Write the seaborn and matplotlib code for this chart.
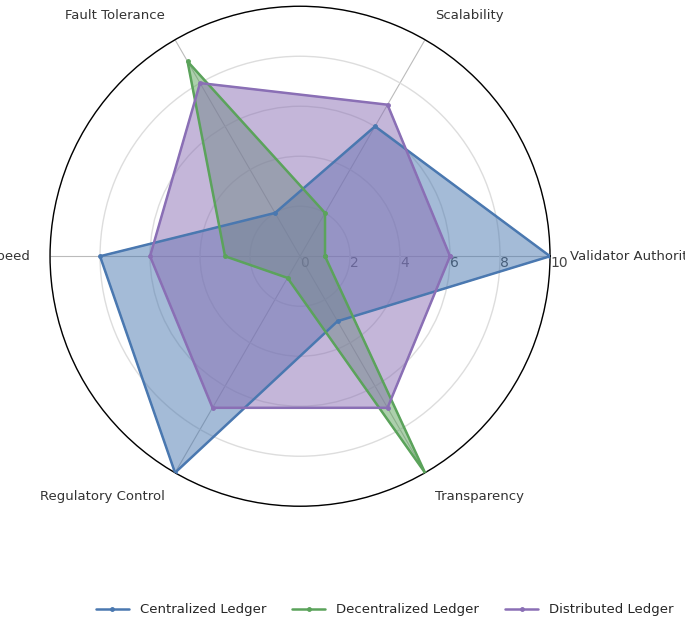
import numpy as np
import matplotlib.pyplot as plt
import seaborn as sns

sns.set_style('white')
plt.rcParams['font.family'] = ['DejaVu Sans']

categories = ['Validator Authority', 'Scalability', 'Fault Tolerance', 'Speed',
              'Regulatory Control', 'Transparency']
centralized = [10, 6, 2, 8, 10, 3]
decentralized = [1, 2, 9, 3, 1, 10]
distributed = [6, 7, 8, 6, 7, 7]

series = [('Centralized Ledger', centralized, '#4a78b0'),
          ('Decentralized Ledger', decentralized, '#5ba35b'),
          ('Distributed Ledger', distributed, '#8a6fb5')]

angles = np.linspace(0, 2 * np.pi, len(categories), endpoint=False)
closed = np.append(angles, angles[0])

fig = plt.figure(figsize=(6.85, 6.25), dpi=100)
ax = fig.add_axes([0.073, 0.19, 0.730, 0.80], polar=True)

for name, vals, color in series:
    v = np.append(vals, vals[0])
    ax.fill(closed, v, color=color, alpha=0.5, zorder=2)
    ax.plot(closed, v, color=color, linewidth=1.8, marker='o', markersize=2.5,
            label=name, zorder=3)

ax.set_ylim(0, 10)
ax.set_yticks([0, 2, 4, 6, 8, 10])
ax.set_yticklabels(['0', '2', '4', '6', '8', '10'], fontsize=10, color='#444')
ax.set_rlabel_position(0)
for t in ax.get_yticklabels():
    t.set_verticalalignment('top')
ax.set_xticks(angles)
ax.set_xticklabels(categories, fontsize=9.5, color='#333')
aligns = [('left', 'center'), ('left', 'bottom'), ('right', 'bottom'),
          ('right', 'center'), ('right', 'top'), ('left', 'top')]
for t, (ha, va) in zip(ax.get_xticklabels(), aligns):
    t.set_horizontalalignment(ha)
    t.set_verticalalignment(va)
ax.tick_params(axis='x', pad=4)
ax.grid(True, color='#dddddd', linewidth=1)
ax.xaxis.grid(True, color='#bbbbbb', linewidth=0.8)
ax.spines['polar'].set_color('black')
ax.spines['polar'].set_linewidth(1)

fig.legend(loc='lower right', ncol=3, frameon=False, fontsize=9.5,
           bbox_to_anchor=(1.0, -0.005), handlelength=2.5)

plt.savefig('out.png', dpi=100)
